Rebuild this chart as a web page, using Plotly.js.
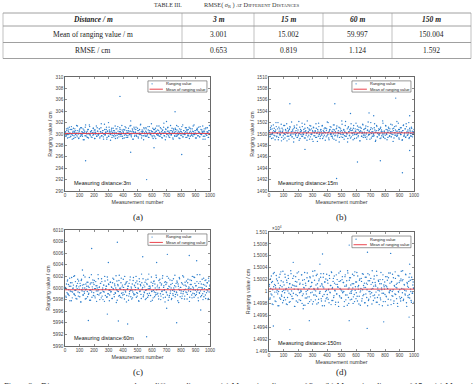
<!DOCTYPE html>
<html><head><meta charset="utf-8">
<script src="https://cdn.plot.ly/plotly-3.0.1.min.js"></script>
<style>html,body{margin:0;padding:0;background:#fff;}#chart{width:474px;height:384px;}</style>
</head><body><div id="chart"></div>
<script>
// ---------- table data ----------
const tableHeader = ["Distance / m", "3 m", "15 m", "60 m", "150 m"];
const rowMean = ["Mean of ranging value / m", "3.001", "15.002", "59.997", "150.004"];
const rowRmse = ["RMSE / cm", "0.653", "0.819", "1.124", "1.592"];

// ---------- series (ranging value, cm) ----------
// set 1: measurement number 2,6,10,...,998 ; set 2: 4,8,12,...,1000
const measStart1 = 2, measStart2 = 4, measStep = 4;
const rangeA = [300.4,299.6,300.9,300.1,299.3,300.7,299.9,301.2,300.2,299.5,300.0,300.8,299.1,300.3,301.0,299.7,300.5,299.4,300.6,300.1,299.8,301.4,300.2,299.2,300.4,300.9,299.6,300.0,301.1,299.9,300.3,299.0,300.7,300.2,299.7,301.6,300.1,299.5,300.5,300.8,299.3,300.0,301.3,299.8,300.4,300.6,299.4,300.2,301.0,299.9,300.7,299.2,300.3,300.1,299.6,301.1,300.5,299.8,300.0,300.9,299.5,300.4,301.8,299.7,300.2,300.6,299.1,300.0,300.8,299.9,300.3,301.2,299.4,300.5,300.1,299.6,300.7,300.2,298.9,300.4,301.0,299.8,300.3,300.6,299.5,300.0,301.4,299.7,300.2,300.9,299.3,300.5,300.1,299.9,301.1,300.4,299.6,300.0,300.7,299.2,300.3,300.8,299.8,301.3,300.1,299.4,300.6,300.2,299.7,301.0,300.5,299.9,300.0,301.5,299.5,300.4,300.7,299.1,300.2,300.9,299.8,300.3,301.2,299.6,300.1,300.6,299.3,300.0,300.8,299.9,301.7,300.4,299.7,300.2,300.5,299.0,300.9,300.1,299.6,301.1,300.3,299.8,300.0,300.7,299.4,301.3,300.2,299.9,300.6,300.4,299.5,301.0,300.1,299.7,300.8,300.3,299.2,300.5,301.4,299.8,300.0,300.6,299.6,300.2,301.1,299.9,300.4,299.3,300.7,300.1,301.9,299.7,300.3,300.9,299.5,300.0,300.5,301.2,299.8,300.2,299.4,300.6,300.1,299.9,301.0,300.4,299.1,300.7,300.3,299.6,300.8,300.0,301.5,299.7,300.2,300.5,299.3,300.9,300.1,299.8,300.4,301.3,299.5,300.0,300.6,299.9,300.2,301.1,299.4,300.7,300.3,299.7,300.8,300.1,299.2,301.0,300.5,299.8,300.0,300.9,299.6,300.4,301.6,299.9,300.2,300.6,299.3,300.1,300.7,299.7,301.2,300.3,299.5,300.0,300.8,299.9,300.4,301.4,299.6,300.2,300.5,299.1,300.9,300.1,299.8,301.1,300.3,299.4,300.6,300.0];
const rangeA2 = [300.2,299.7,300.6,299.9,301.0,300.4,299.4,300.1,300.8,299.6,301.3,300.0,299.8,300.5,299.2,300.3,300.9,299.9,300.2,301.5,299.5,300.6,300.0,299.3,300.7,300.1,301.1,299.8,300.4,299.6,300.9,300.2,299.0,300.5,301.2,299.7,300.3,300.0,299.4,300.8,300.1,301.6,299.9,300.4,299.5,300.6,300.2,299.8,301.0,300.3,299.2,300.7,300.0,301.4,299.6,300.5,299.9,300.1,300.9,299.3,300.4,301.1,299.7,300.2,300.6,299.5,300.0,301.7,299.8,300.3,300.8,299.1,300.5,300.1,299.6,301.2,300.4,299.9,300.0,300.7,299.4,300.2,301.0,299.7,300.6,300.3,299.2,300.9,300.1,299.8,301.3,300.0,299.5,300.4,300.8,299.9,300.2,301.5,299.6,300.5,300.1,299.3,300.7,300.0,301.1,299.8,300.3,299.4,300.6,300.2,299.9,301.4,300.5,299.7,300.0,300.9,299.1,300.4,301.2,299.6,300.3,300.8,299.8,300.1,301.0,299.5,300.6,300.2,299.9,301.6,300.0,299.3,300.7,300.4,299.7,301.1,300.2,299.8,300.5,300.9,299.6,300.1,301.3,299.4,300.3,300.6,299.9,300.0,301.8,299.7,300.4,299.2,300.8,300.2,299.5,301.0,300.5,299.9,300.1,300.7,299.8,301.4,300.3,299.6,300.0,300.9,299.4,300.6,300.2,301.2,299.7,300.4,299.0,300.8,300.1,299.9,301.1,300.5,299.5,300.3,300.0,301.5,299.8,300.6,300.2,299.3,300.9,300.1,299.7,301.0,300.4,299.6,300.7,300.0,301.3,299.9,300.3,299.2,300.5,300.8,299.8,300.2,301.6,299.5,300.6,300.1,299.9,300.4,301.1,299.4,300.7,300.0,299.7,301.2,300.3,299.6,300.9,300.2,299.8,300.5,301.4,299.9,300.1,300.6,299.3,300.0,300.8,301.0,299.7,300.4,300.2,299.5,301.3,300.1,299.9,300.7,300.3,299.1,300.5,300.9,299.6,300.0,301.1,299.8,300.4,300.2,299.4,300.6,301.5,299.9];
const rangeB = [1500.6,1499.5,1501.1,1500.0,1499.2,1500.9,1500.3,1501.6,1499.8,1500.4,1499.0,1500.7,1501.3,1499.6,1500.1,1502.0,1499.4,1500.5,1500.9,1499.9,1500.2,1498.8,1501.0,1500.4,1499.7,1501.5,1500.0,1499.3,1500.8,1500.3,1501.8,1499.6,1500.1,1500.6,1499.1,1500.9,1501.2,1499.8,1500.4,1499.5,1500.7,1500.0,1498.6,1501.4,1500.2,1499.9,1500.6,1501.0,1499.4,1500.3,1499.7,1502.2,1500.1,1499.2,1500.8,1500.5,1499.6,1501.3,1500.0,1499.9,1500.4,1501.7,1499.3,1500.6,1500.2,1498.9,1501.1,1500.3,1499.8,1500.7,1501.5,1499.5,1500.0,1500.9,1499.1,1500.4,1501.2,1499.7,1500.2,1500.6,1499.4,1501.0,1500.1,1498.7,1500.5,1501.9,1499.9,1500.3,1499.6,1500.8,1500.0,1501.4,1499.2,1500.6,1500.4,1499.8,1501.1,1500.2,1499.5,1500.9,1502.1,1499.9,1500.3,1499.0,1500.7,1501.3,1500.1,1499.6,1500.5,1499.3,1500.8,1500.0,1501.6,1499.7,1500.4,1498.9,1501.0,1500.2,1499.8,1500.6,1501.2,1499.4,1500.1,1500.9,1499.5,1502.3,1500.3,1499.9,1500.7,1499.1,1500.5,1501.5,1499.6,1500.2,1500.0,1498.6,1501.1,1500.4,1499.7,1500.8,1499.3,1501.8,1500.6,1500.1,1499.8,1501.0,1500.3,1499.2,1500.9,1500.5,1499.9,1500.0,1501.4,1499.5,1500.7,1500.2,1498.8,1501.2,1500.4,1499.6,1500.1,1501.7,1499.4,1500.8,1500.3,1499.7,1501.0,1500.0,1499.1,1500.6,1501.3,1499.8,1500.5,1499.9,1500.2,1502.0,1499.3,1500.4,1500.9,1499.6,1500.0,1501.1,1500.7,1498.7,1500.3,1501.5,1499.5,1500.1,1500.6,1499.9,1500.8,1499.2,1501.2,1500.4,1499.7,1500.0,1501.9,1499.4,1500.5,1500.2,1499.8,1501.4,1500.1,1499.0,1500.7,1500.3,1501.0,1499.6,1500.9,1500.4,1499.5,1500.0,1501.6,1499.9,1500.6,1499.3,1501.3,1500.2,1499.8,1500.5,1502.2,1499.7,1500.1,1500.8,1499.1,1500.4,1501.1,1499.9,1500.3,1498.9,1500.6,1501.5,1499.6,1500.0,1500.9,1499.4,1501.8,1500.2,1499.8,1500.7,1500.3,1499.2,1501.0,1500.5,1499.7,1501.2,1500.1,1499.5,1500.4,1500.0];
const rangeB2 = [1500.3,1499.6,1500.8,1501.4,1499.9,1500.1,1499.3,1500.6,1501.0,1499.7,1500.4,1502.0,1499.5,1500.2,1500.9,1499.0,1501.2,1500.0,1499.8,1500.5,1501.7,1499.4,1500.3,1500.7,1499.1,1500.1,1501.5,1499.9,1500.6,1500.2,1498.8,1501.0,1500.4,1499.6,1500.8,1501.3,1499.8,1500.0,1502.1,1499.5,1500.5,1500.9,1499.2,1501.1,1500.3,1499.7,1500.1,1501.6,1499.4,1500.7,1500.0,1498.9,1501.2,1500.4,1499.9,1500.6,1501.9,1499.6,1500.2,1500.8,1499.3,1501.0,1500.5,1499.8,1500.1,1502.3,1499.5,1500.4,1500.9,1499.1,1500.7,1501.4,1499.9,1500.0,1500.6,1498.7,1501.1,1500.3,1499.7,1500.5,1501.8,1499.4,1500.2,1500.8,1499.6,1501.3,1500.0,1499.2,1500.7,1500.4,1499.8,1501.5,1500.1,1499.5,1500.9,1500.3,1498.9,1501.0,1500.6,1499.7,1500.2,1502.0,1499.3,1500.5,1500.8,1499.9,1501.2,1500.0,1499.6,1500.4,1501.6,1499.1,1500.7,1500.2,1499.8,1500.9,1501.4,1499.5,1500.3,1500.1,1498.6,1501.1,1500.5,1499.9,1500.6,1501.7,1499.4,1500.0,1500.8,1499.7,1500.3,1502.2,1499.6,1500.1,1500.9,1499.2,1501.3,1500.4,1499.8,1500.6,1501.0,1499.5,1500.2,1500.7,1499.0,1501.5,1500.0,1499.9,1500.5,1501.9,1499.3,1500.8,1500.1,1499.7,1501.2,1500.4,1498.8,1500.6,1501.0,1499.6,1500.3,1501.6,1499.8,1500.0,1500.9,1499.4,1501.4,1500.2,1499.5,1500.7,1502.1,1499.9,1500.5,1499.1,1500.8,1501.1,1500.1,1499.6,1500.4,1500.0,1499.7,1501.8,1500.3,1498.9,1500.6,1501.3,1499.5,1500.2,1500.9,1499.8,1500.1,1501.0,1499.3,1500.7,1500.4,1502.3,1499.6,1500.0,1500.5,1499.2,1501.5,1500.8,1499.9,1500.3,1499.4,1501.2,1500.6,1499.7,1500.1,1501.7,1499.5,1500.4,1500.9,1498.7,1501.0,1500.2,1499.8,1500.7,1501.4,1499.6,1500.0,1500.5,1501.9,1499.3,1500.8,1500.1,1499.9,1501.1,1500.3,1499.0,1500.6,1501.6,1499.7,1500.2,1500.9,1499.5,1501.3,1500.4,1499.8,1500.0,1502.0,1499.4,1500.7,1500.1,1499.6,1501.0,1500.5,1499.9,1500.3,1500.8];
const rangeC = [5999.9,5998.6,6000.7,5999.2,6001.4,5998.9,5999.7,6000.3,5997.8,6000.9,5999.4,6001.8,5998.3,5999.9,6000.5,5999.0,6002.1,5998.7,5999.6,6000.2,5998.1,6000.8,5999.3,6001.2,5999.8,5998.5,6000.4,5997.6,6001.5,5999.5,6000.0,5998.8,6000.6,5999.1,6001.9,5999.7,5998.2,6000.3,5999.4,6001.0,5998.9,6000.1,5997.9,6000.7,5999.6,6002.3,5998.4,5999.8,6000.9,5999.2,6001.3,5998.6,5999.9,6000.4,5997.7,6000.0,5999.5,6001.6,5998.8,6000.2,5999.1,6000.8,5998.3,6001.1,5999.7,5998.0,6000.5,5999.3,6002.0,5998.7,5999.9,6000.3,5998.5,6001.4,5999.0,6000.6,5997.8,5999.6,6001.0,5999.4,6000.1,5998.2,6001.7,5999.8,5998.9,6000.7,5999.2,6000.0,5997.5,6001.2,5999.5,6000.4,5998.6,6002.2,5999.9,5998.4,6000.9,5999.1,6000.2,5998.8,6001.5,5999.7,5998.1,6000.6,5999.3,6001.0,5998.7,5999.8,6000.3,5997.9,6000.8,5999.4,6001.9,5998.5,6000.0,5999.6,5998.3,6001.3,5999.0,6000.5,5998.9,6000.1,6002.0,5999.2,5998.6,6000.7,5999.9,5997.7,6001.1,5999.5,6000.4,5998.2,6000.9,5999.8,6001.6,5998.8,5999.3,6000.2,5998.0,6001.4,5999.7,6000.6,5998.4,5999.9,6002.4,5999.1,6000.3,5998.7,6001.0,5999.4,5997.9,6000.8,5999.6,6001.2,5998.5,6000.0,5999.2,6001.8,5998.9,6000.5,5999.8,5998.1,6000.1,6001.5,5999.0,5998.6,6000.7,5999.5,6002.1,5998.3,6000.4,5999.7,5997.6,6001.1,5999.3,6000.9,5998.8,5999.9,6001.7,5998.4,6000.2,5999.1,6000.6,5998.0,6001.3,5999.6,5998.7,6000.0,5999.4,6002.2,5998.9,6000.8,5999.2,6001.0,5997.8,6000.3,5999.8,6001.6,5998.5,6000.1,5999.5,5998.2,6000.7,5999.0,6001.9,5999.7,5998.6,6000.5,5999.3,6001.2,5998.1,6000.9,5999.9,6000.2,5997.7,6001.4,5999.4,6000.6,5998.8,6002.0,5999.1,6000.0,5998.4,6001.8,5999.6,6000.4,5998.9,6001.1,5999.8,5998.3,6000.8,5999.2,6002.3,5999.5,6000.1,5998.7,6001.5,5999.0,6000.6,5998.5,5999.9,6001.3,5998.2,6000.3,5999.7,6000.9,5998.0,6001.7,5999.3,6000.5];
const rangeC2 = [6000.1,5998.4,5999.8,6001.2,5999.0,6000.6,5998.7,6001.7,5999.5,6000.3,5997.8,6000.9,5999.3,6000.0,6002.0,5998.9,5999.6,6001.1,5998.2,6000.4,5999.9,6001.5,5998.6,6000.2,5999.2,6000.8,5997.6,6001.3,5999.7,6000.5,5998.8,6002.2,5999.4,6000.0,5998.1,6000.7,5999.8,6001.0,5998.5,6000.3,5999.1,6001.8,5999.6,5997.9,6000.9,5999.3,6000.2,6001.4,5998.7,6000.6,5999.9,5998.3,6001.1,5999.5,6000.4,5998.9,6002.3,5999.7,6000.1,5998.0,6000.8,5999.2,6001.6,5998.6,6000.0,5999.4,6000.5,5997.7,6001.2,5999.8,6000.3,5998.4,6001.9,5999.0,6000.7,5999.6,5998.8,6001.0,5999.3,6000.2,5998.2,6000.9,5999.9,6001.5,5998.5,6000.4,5999.1,6002.1,5999.7,5997.9,6000.6,5999.4,6001.3,5998.7,6000.0,5999.8,6001.7,5998.3,6000.5,5999.2,6000.1,5998.9,6002.0,5999.5,6000.8,5997.6,6001.1,5999.9,6000.3,5998.6,5999.0,6001.4,5999.6,6000.2,5998.1,6000.7,5999.3,6001.8,5998.8,6000.4,5999.7,6000.9,5998.4,6001.2,5999.1,6000.0,5997.8,6001.6,5999.4,6000.6,5998.9,6002.4,5999.8,6000.1,5998.5,6000.5,5999.2,6001.0,5999.6,5998.2,6000.8,5999.0,6001.5,5998.7,6000.3,5999.9,6000.0,5997.7,6001.9,5999.5,6000.4,5998.3,6001.1,5999.3,6000.7,5998.8,6002.2,5999.7,6000.2,5999.1,5998.6,6001.3,5999.8,6000.9,5998.0,6000.5,5999.4,6001.7,5998.9,6000.1,5999.6,6001.0,5998.4,6000.6,5999.2,6002.0,5999.9,5997.9,6000.3,5998.7,6001.4,5999.5,6000.0,5998.2,6000.8,5999.0,6001.6,5999.7,6000.4,5998.5,6000.2,5999.3,6001.2,5998.8,6000.7,5997.5,6001.8,5999.6,6000.1,5999.1,6000.9,5998.6,6002.1,5999.4,6000.5,5998.1,6001.0,5999.8,6000.3,5999.2,5998.9,6001.5,5999.5,6000.0,5998.4,6000.6,5999.9,6001.3,5998.3,6000.2,5999.7,6001.9,5999.0,6000.8,5998.7,6000.4,5999.3,6002.3,5999.6,5997.8,6000.1,5999.1,6001.1,5998.5,6000.7,5999.8,6000.0,5998.0,6001.7,5999.4,6000.5,5998.8,6001.4,5999.2,6000.9,5999.5,5998.2,6001.2,5999.9,6000.3];
const rangeD = [15000.9,14998.7,15002.1,14999.6,15001.5,14997.9,15000.3,15003.0,14999.1,15001.2,14998.4,15000.6,15002.7,14999.9,15001.8,14997.6,15000.0,15002.4,14998.9,15001.0,15003.3,14999.4,15000.8,14998.1,15001.6,15000.2,14999.0,15002.9,14998.6,15000.5,15001.9,14997.8,15000.1,15002.2,14999.7,15001.3,14998.3,15003.5,15000.7,14999.2,15001.1,14998.8,15002.6,15000.4,14997.5,15001.7,14999.5,15000.9,15003.1,14998.2,15000.3,15002.0,14999.8,15001.4,14998.5,15000.0,15002.8,14999.3,15001.2,14997.7,15000.6,15003.2,14998.9,15001.0,14999.6,15002.3,15000.2,14998.0,15001.8,14999.1,15002.5,15000.8,14998.6,15001.5,14999.9,15003.4,14998.3,15000.5,15001.9,14999.4,15000.1,15002.7,14997.9,15001.3,15000.4,14998.7,15002.1,14999.7,15000.9,15003.0,14998.4,15001.1,14999.2,15002.4,15000.6,14997.6,15001.6,15000.0,14998.8,15002.9,14999.5,15001.4,15000.3,14998.1,15002.2,14999.8,15001.0,15003.3,14998.5,15000.7,15001.7,14999.0,15002.6,15000.2,14997.8,15001.2,14999.6,15002.0,15000.8,14998.2,15003.1,14999.3,15000.5,15001.8,14998.9,15000.1,15002.5,14999.9,15001.5,14997.5,15000.9,15002.8,14998.6,15001.1,14999.4,15003.5,15000.4,14998.0,15001.9,14999.7,15002.3,15000.0,14998.7,15001.3,15000.6,14999.1,15002.7,14998.3,15000.2,15001.6,14999.8,15003.2,14998.4,15000.8,15001.0,14999.2,15002.1,14997.7,15000.5,15001.7,14998.8,15000.3,15002.9,14999.5,15001.4,14998.1,15000.7,15002.4,14999.0,15001.2,15003.0,14998.5,15000.0,15001.8,14999.6,15002.2,15000.4,14997.9,15001.5,14999.3,15000.9,15002.6,14998.9,15001.1,14999.9,15003.4,14998.2,15000.6,15001.9,14999.4,15000.1,15002.0,14998.6,15001.3,15000.3,14997.6,15002.8,14999.7,15000.8,15001.6,14998.3,15001.0,14999.1,15002.5,15000.5,14998.7,15003.1,14999.8,15001.4,15000.2,14997.8,15001.7,15000.0,14999.2,15002.3,14998.4,15000.9,15003.3,14999.5,15001.2,15000.6,14998.0,15002.7,14999.9,15001.5,15000.3,14998.8,15002.1,14999.0,15001.8,15003.5,14998.5,15000.4,15001.1,14999.6,15002.9,15000.1,14997.5,15001.3,14999.3,15000.7,15002.4,14998.9,15001.9,15000.0,14998.2,15002.0,14999.7,15001.6,15000.5];
const rangeD2 = [15001.2,14998.9,15000.5,15002.6,14999.4,15001.7,14997.8,15000.8,15003.2,14999.9,15001.0,14998.3,15002.1,15000.2,14999.6,15001.4,14997.6,15000.6,15002.9,14998.7,15001.8,14999.2,15000.0,15003.4,14998.5,15001.1,14999.8,15002.4,15000.3,14997.9,15001.5,14999.0,15002.7,15000.7,14998.2,15001.3,14999.5,15003.0,15000.1,14998.8,15002.2,14999.7,15001.0,14997.5,15000.9,15002.5,14998.4,15001.6,14999.3,15000.4,15003.3,14998.6,15001.2,14999.9,15000.2,15002.8,14998.0,15001.9,14999.6,15000.7,15002.0,14997.7,15001.4,15000.0,14998.9,15003.1,14999.1,15001.7,15000.5,14998.3,15002.3,14999.8,15000.9,15001.5,14997.9,15002.6,14999.4,15000.3,15003.5,14998.6,15001.1,14999.2,15002.9,15000.6,14998.1,15001.8,14999.7,15000.0,15002.4,14998.8,15001.3,14997.6,15000.8,15003.0,14999.5,15001.6,14998.4,15002.1,15000.2,14999.0,15001.9,14998.7,15000.4,15002.7,14999.9,15001.0,14997.8,15003.2,15000.5,14998.5,15002.2,14999.3,15001.4,15000.1,14998.2,15002.8,14999.6,15001.2,15000.7,14997.5,15001.7,14999.1,15003.4,15000.3,14998.9,15002.0,14999.8,15001.5,15000.0,14998.3,15002.5,14999.4,15000.9,15001.8,14997.7,15003.1,14999.0,15000.6,15002.3,14998.6,15001.1,14999.7,15000.2,15002.9,14998.0,15001.3,14999.5,15003.3,15000.8,14998.8,15001.6,14999.2,15002.6,15000.4,14997.9,15001.9,14999.9,15000.1,15002.2,14998.4,15003.0,14999.3,15001.0,15000.7,14998.1,15002.4,14999.6,15001.4,15000.3,14997.6,15001.8,14998.7,15002.8,15000.0,14999.1,15001.2,14999.8,15003.5,15000.5,14998.5,15002.1,14999.4,15001.5,15000.9,14998.2,15002.7,14999.0,15000.2,15001.7,14997.8,15001.3,14998.9,15003.2,15000.6,14999.7,15002.0,14998.3,15001.1,15000.4,14999.5,15002.5,14999.2,15000.8,15001.9,14997.7,15002.3,14999.9,15000.1,15003.1,14998.6,15001.6,14999.3,15002.9,15000.3,14998.0,15001.0,14999.6,15002.2,15000.7,14998.8,15001.4,14997.5,15000.0,15002.6,14999.1,15001.8,14998.4,15003.4,15000.5,14999.8,15002.0,14998.7,15001.2,15000.2,14999.4,15002.8,14998.1,15001.5,15000.9,14999.0,15001.7,14999.5,15003.0,15000.4,14998.5,15002.4,14999.7,15001.1,15000.6,14998.2];

// outliers (measurement number, value)
const outAx = [379,453,759,142,453,563,805,614,300,700];
const outAy = [306.6,302.3,303.9,295.3,296.8,292.0,296.4,297.6,302.0,302.2];
const outBx = [144,454,874,562,690,722,970,610,768,920,466,248,970];
const outBy = [1505.3,1505.3,1506.3,1503.6,1503.7,1503.2,1503.2,1495.1,1495.3,1493.2,1492.2,1497.3,1497.1];
const outCx = [184,361,536,706,857,299,632,908,120,161,368,292,432,563,770,936,701];
const outCy = [6006.8,6007.9,6005.4,6005.8,6005.6,6004.4,6004.4,6004.7,6003.1,5994.4,5994.3,5995.5,5993.8,5991.6,5994.0,5996.2,5996.5];
const outDx = [553,369,679,839,167,351,970,30,144,278,553,677,791,966,236];
const outDy = [15007.8,15006.3,15006.6,15006.4,15004.9,15004.6,15004.6,14994.2,14993.6,14995.1,14995.1,14993.8,14994.9,14995.7,14997.1];

// mean of ranging value (cm)
const meanA = 300.1, meanB = 1500.2, meanC = 5999.7, meanD = 15000.4;
const measRange = [0, 1000];

// tick labels
const xTicks = [0,100,200,300,400,500,600,700,800,900,1000];
const yTicksA = [290,292,294,296,298,300,302,304,306,308,310];
const yTicksB = [1490,1492,1494,1496,1498,1500,1502,1504,1506,1508,1510];
const yTicksC = [5990,5992,5994,5996,5998,6000,6002,6004,6006,6008,6010];
const yTicksD = [14990,14992,14994,14996,14998,15000,15002,15004,15006,15008,15010];
const yTickTextD = ["1.499","1.4992","1.4994","1.4996","1.4998","1","1.5002","1.5004","1.5006","1.5008","1.501"];
const distLabels = ["Measuring distance:3m","Measuring distance:15m","Measuring distance:60m","Measuring distance:150m"];
const panelLabels = ["(a)","(b)","(c)","(d)"];

// ---------- build ----------
const W = 474, H = 384;
const px = v => v / W, py = v => 1 - v / H;
const dotColor = "#2a7dcc", lineColor = "#e8303a";
const panels = [
  {s:"", v1:rangeA, v2:rangeA2, ox:outAx, oy:outAy, mean:meanA, yt:yTicksA, ytt:yTicksA.map(String), L:65, R:210, T:77, B:191},
  {s:"2", v1:rangeB, v2:rangeB2, ox:outBx, oy:outBy, mean:meanB, yt:yTicksB, ytt:yTicksB.map(String), L:269, R:414, T:77, B:191},
  {s:"3", v1:rangeC, v2:rangeC2, ox:outCx, oy:outCy, mean:meanC, yt:yTicksC, ytt:yTicksC.map(String), L:65, R:210, T:230, B:346},
  {s:"4", v1:rangeD, v2:rangeD2, ox:outDx, oy:outDy, mean:meanD, yt:yTicksD, ytt:yTickTextD, L:269, R:414, T:232, B:351}
];
const traces = [], shapes = [], annotations = [];
const layout = {
  width: W, height: H, margin:{l:0,r:0,t:0,b:0}, showlegend:false,
  paper_bgcolor:"#fff", plot_bgcolor:"#fff",
  font:{family:"Liberation Sans, Arial, sans-serif", size:5, color:"#333"}
};
const tickFont = {family:"Liberation Sans, Arial, sans-serif", size:4.6, color:"#444"};
const mk = {size:1.4, color:dotColor};
panels.forEach((p, i) => {
  const xa = "x" + p.s, ya = "y" + p.s;
  traces.push({type:"scatter", mode:"markers", x0:measStart1, dx:measStep, y:p.v1, xaxis:xa, yaxis:ya, marker:mk, hoverinfo:"skip"});
  traces.push({type:"scatter", mode:"markers", x0:measStart2, dx:measStep, y:p.v2, xaxis:xa, yaxis:ya, marker:mk, hoverinfo:"skip"});
  traces.push({type:"scatter", mode:"markers", x:p.ox, y:p.oy, xaxis:xa, yaxis:ya, marker:mk, hoverinfo:"skip"});
  traces.push({type:"scatter", mode:"lines", x:measRange, y:[p.mean, p.mean], xaxis:xa, yaxis:ya,
    line:{color:lineColor, width:0.9}, hoverinfo:"skip"});
  const common = {showgrid:false, zeroline:false, showline:true, linecolor:"#444", linewidth:0.8,
    mirror:"ticks", ticks:"inside", ticklen:2, tickwidth:0.6, tickcolor:"#444", tickfont:tickFont};
  layout["xaxis" + p.s] = Object.assign({}, common, {domain:[px(p.L), px(p.R)], anchor:ya, range:measRange,
    tickvals:xTicks, ticktext:xTicks.map(String),
    title:{text:"Measurement number", font:{size:5.3, color:"#333"}, standoff:2}});
  layout["yaxis" + p.s] = Object.assign({}, common, {domain:[py(p.B), py(p.T)], anchor:xa,
    range:[p.yt[0], p.yt[p.yt.length-1]], tickvals:p.yt, ticktext:p.ytt,
    title:{text:"Ranging value / cm", font:{size:5.3, color:"#333"}, standoff:2}});
  const xd = xa + " domain", yd = ya + " domain";
  shapes.push({type:"rect", xref:xd, yref:yd, x0:0.572, x1:0.979, y0:0.868, y1:0.966,
    line:{color:"#555", width:0.6}, fillcolor:"#fff", layer:"above"});
  shapes.push({type:"circle", xref:xd, yref:yd, x0:0.596, x1:0.605, y0:0.935, y1:0.945,
    line:{width:0}, fillcolor:dotColor, layer:"above"});
  shapes.push({type:"line", xref:xd, yref:yd, x0:0.583, x1:0.675, y0:0.893, y1:0.893,
    line:{color:lineColor, width:0.9}, layer:"above"});
  annotations.push({xref:xd, yref:yd, x:0.685, y:0.94, text:"Ranging value", showarrow:false,
    xanchor:"left", yanchor:"middle", font:{size:4, color:"#222"}});
  annotations.push({xref:xd, yref:yd, x:0.685, y:0.893, text:"Mean of ranging value", showarrow:false,
    xanchor:"left", yanchor:"middle", font:{size:4, color:"#222"}});
  annotations.push({xref:xd, yref:yd, x:0.05, y:0.07, text:distLabels[i], showarrow:false,
    xanchor:"left", yanchor:"middle", font:{size:5.5, color:"#111"}});
  annotations.push({xref:"paper", yref:"paper", x:px((p.L + p.R)/2), y:py(i < 2 ? 217 : 372), text:panelLabels[i],
    showarrow:false, xanchor:"center", yanchor:"middle",
    font:{family:"Liberation Serif, Times New Roman, serif", size:9, color:"#222"}});
});
annotations.push({xref:"paper", yref:"paper", x:px(270), y:py(228), text:"×10<sup>4</sup>", showarrow:false,
  xanchor:"left", yanchor:"middle", font:{size:4.6, color:"#444"}});

// ---------- table ----------
const serif = "Liberation Serif, Times New Roman, serif";
const colEdges = [3, 182, 254, 323, 392, 471];
const rowEdges = [13, 26, 42.5, 58.5];
rowEdges.forEach(y => shapes.push({type:"line", xref:"paper", yref:"paper", x0:px(colEdges[0]), x1:px(colEdges[5]),
  y0:py(y), y1:py(y), line:{color:"#888", width:0.8}}));
colEdges.forEach(x => shapes.push({type:"line", xref:"paper", yref:"paper", x0:px(x), x1:px(x),
  y0:py(rowEdges[0]), y1:py(rowEdges[3]), line:{color:"#999", width:0.6}}));
[tableHeader, rowMean, rowRmse].forEach((row, r) => {
  const yc = (rowEdges[r] + rowEdges[r+1]) / 2;
  row.forEach((t, c) => {
    annotations.push({xref:"paper", yref:"paper", x:px((colEdges[c] + colEdges[c+1])/2), y:py(yc),
      text: r === 0 ? "<b><i>" + t + "</i></b>" : t, showarrow:false, xanchor:"center", yanchor:"middle",
      font:{family:serif, size:7.5, color:"#222"}});
  });
});
annotations.push({xref:"paper", yref:"paper", x:px(152), y:py(5.5), xanchor:"left", yanchor:"middle", showarrow:false,
  text:"TABLE III.", font:{family:serif, size:6, color:"#333"}});
annotations.push({xref:"paper", yref:"paper", x:px(202), y:py(5.5), xanchor:"left", yanchor:"middle", showarrow:false,
  text:"RMSE( <i>σ</i><sub>R</sub> ) <span style='font-size:4.8px'>AT</span> D<span style='font-size:4.8px'>IFFERENT</span> D<span style='font-size:4.8px'>ISTANCES</span>",
  font:{family:serif, size:6.3, color:"#333"}});
annotations.push({xref:"paper", yref:"paper", x:px(2), y:py(386), xanchor:"left", yanchor:"middle", showarrow:false,
  text:"Figure 9.   Distance measurement results at different distances: (a) Measuring distance of 3m; (b) Measuring distance of 15m; (c) Measuring distance of 60m",
  font:{family:serif, size:8.5, color:"#333"}});

layout.shapes = shapes;
layout.annotations = annotations;
Plotly.newPlot("chart", traces, layout, {staticPlot:true, displayModeBar:false});
</script></body></html>
